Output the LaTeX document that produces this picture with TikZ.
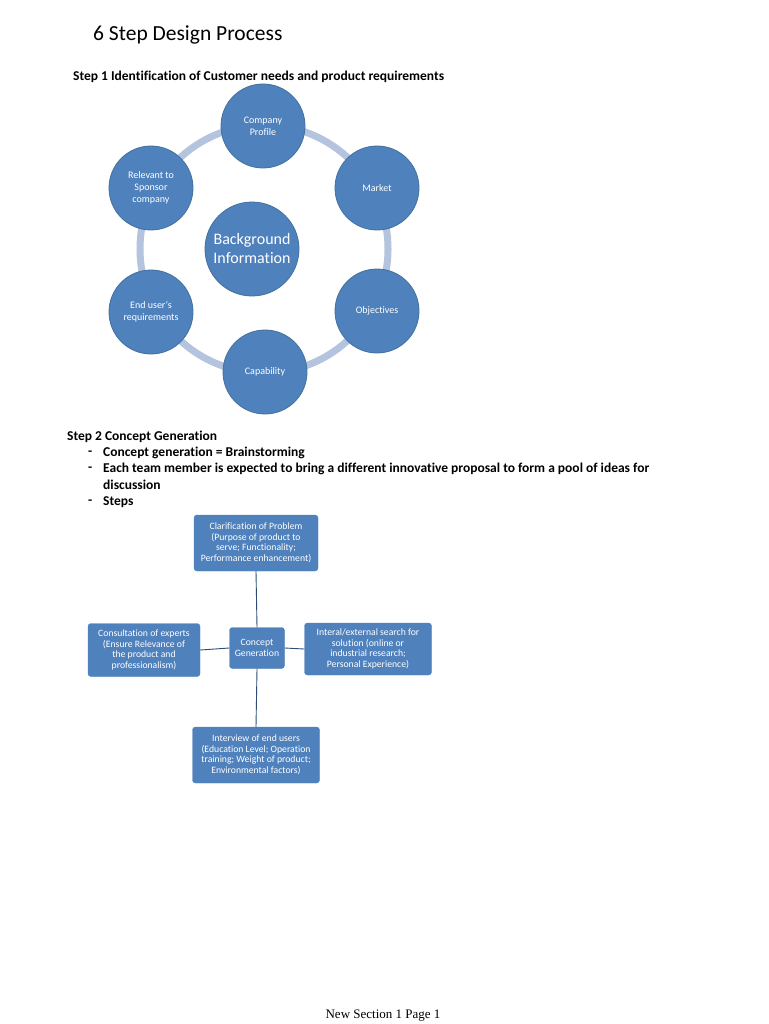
\documentclass[tikz,border=0pt]{standalone}
\usepackage{fontspec}
\setmainfont{Carlito}[Ligatures=NoCommon]
\newfontfamily\tnr{Liberation Serif}
\begin{document}
\begin{tikzpicture}[x=1pt,y=-1pt,
  circ/.style={circle,fill=blue1,draw=blue2,line width=0.8pt,minimum size=84pt,inner sep=1pt,text=white,font=\fontsize{10}{12}\selectfont,align=center},
  bigc/.style={circ,minimum size=94pt,font=\fontsize{16}{19}\selectfont},
  box/.style={rounded corners=3pt,fill=blue1,draw=blue1,text=white,font=\fontsize{9.7}{10.5}\selectfont,align=center,inner sep=2pt},
  conn/.style={draw=blue3,line width=0.9pt},
  txt/.style={anchor=west,inner sep=0pt,font=\bfseries\fontsize{13.5}{15}\selectfont}]
\definecolor{blue1}{HTML}{4F81BD}
\definecolor{blue2}{HTML}{41719C}
\definecolor{blue3}{HTML}{2C4D75}
\definecolor{ringc}{HTML}{B4C3DE}
\useasboundingbox[fill=white] (0,0) rectangle (768,1024);
\node[anchor=west,inner sep=0pt,font=\fontsize{21.5}{25}\selectfont] (title) at (93,35) {6 Step Design Process};
\node[txt] (s1) at (73,77) {Step 1 Identification of Customer needs and product requirements};
\coordinate (rc) at (264,249);
\draw[ringc,line width=7pt] (rc) circle (124);
\node[bigc] (bg) at (252,249) {Background\\Information};
\node[circ] (cp) at (263,126) {Company\\Profile};
\node[circ] (mk) at (377,188) {Market};
\node[circ] (ob) at (377,311) {Objectives};
\node[circ] (ca) at (265,372) {Capability};
\node[circ] (eu) at (151,312) {End user`s\\requirements};
\node[circ] (rs) at (151,188) {Relevant to\\Sponsor\\company};
\node[txt] (s2) at (67,437) {Step 2 Concept Generation};
\node[txt] (d1) at (88,453) {-};
\node[txt] (l1) at (103,453) {Concept generation = Brainstorming};
\node[txt] (d2) at (88,469) {-};
\node[txt] (l2) at (103,469) {Each team member is expected to bring a different innovative proposal to form a pool of ideas for};
\node[txt] (l2b) at (103,485) {discussion};
\node[txt] (d3) at (88,502) {-};
\node[txt] (l3) at (103,502) {Steps};
\node[box,minimum width=124pt,minimum height=56pt] (tp) at (256,543) {Clarification of Problem\\(Purpose of product to\\serve; Functionality;\\Performance enhancement)};
\node[box,minimum width=127pt,minimum height=56pt] (bt) at (256,755) {Interview of end users\\(Education Level; Operation\\training; Weight  of product;\\Environmental factors)};
\node[box,minimum width=112pt,minimum height=53pt] (lf) at (144,650) {Consultation of experts\\(Ensure Relevance of\\the product and\\professionalism)};
\node[box,minimum width=127pt,minimum height=52pt] (rt) at (368,649) {Interal/external search for\\solution (online or\\industrial research;\\Personal Experience)};
\node[box,minimum width=55pt,minimum height=41pt] (cg) at (257,648) {Concept\\Generation};
\draw[conn] (tp.south) -- (cg.north);
\draw[conn] (cg.south) -- (bt.north);
\draw[conn] (lf.east) -- (cg.west);
\draw[conn] (cg.east) -- (rt.west);
\node[font=\tnr\fontsize{13}{15}\selectfont] (ft) at (383,1016) {New Section 1 Page 1};
\end{tikzpicture}
\end{document}
